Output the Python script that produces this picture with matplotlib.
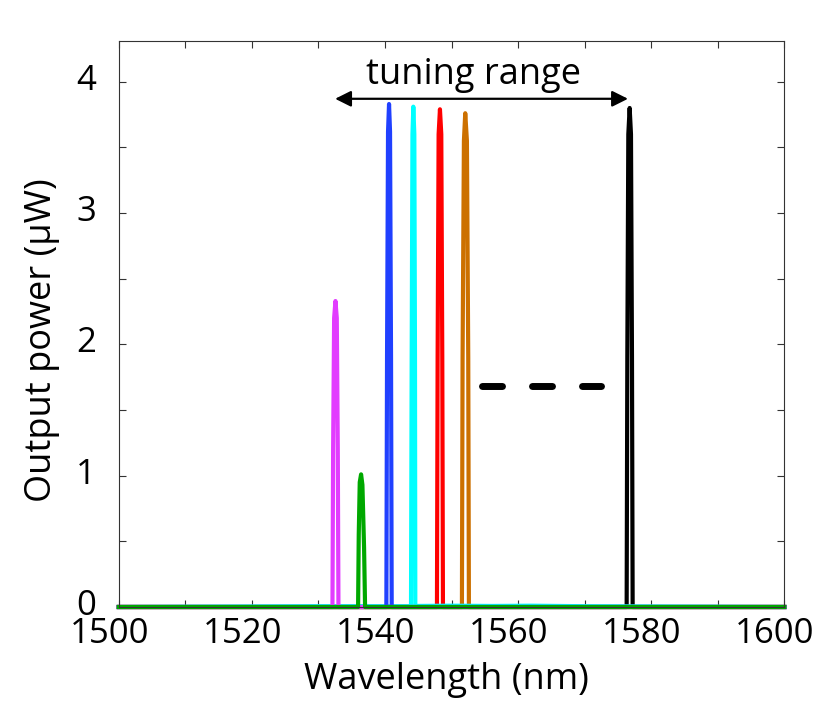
import matplotlib.pyplot as plt
from matplotlib.ticker import MultipleLocator
from matplotlib.transforms import ScaledTranslation

plt.rcParams['font.family'] = ['Open Sans', 'DejaVu Sans']

# spectra (wavelength in nm, power in uW)
wl_black = [1500, 1576.3, 1576.4, 1576.55, 1576.75, 1576.95, 1577.1, 1577.2, 1600]
pw_black = [0, 0, 1.9, 3.6, 3.80, 3.6, 1.9, 0, 0]

wl_orange = [1500, 1551.55, 1551.65, 1551.85, 1552.05, 1552.3, 1552.5, 1552.6, 1600]
pw_orange = [0, 0, 1.9, 3.55, 3.76, 3.55, 1.9, 0, 0]

wl_red = [1500, 1547.8, 1547.9, 1548.05, 1548.25, 1548.45, 1548.6, 1548.7, 1600]
pw_red = [0, 0, 1.9, 3.6, 3.79, 3.6, 1.9, 0, 0]

wl_cyan = [1500, 1530, 1543.9, 1544.0, 1544.12, 1544.25, 1544.4, 1544.5, 1544.55,
           1550, 1556, 1562, 1570, 1600]
pw_cyan = [0, 0.006, 0.006, 1.9, 3.6, 3.81, 3.6, 1.9, 0.008,
           0.01, 0.008, 0.01, 0.006, 0]

wl_blue = [1500, 1540.2, 1540.3, 1540.45, 1540.6, 1540.75, 1540.9, 1541.0, 1600]
pw_blue = [0, 0, 1.9, 3.62, 3.83, 3.62, 1.9, 0, 0]

wl_magenta = [1500, 1532.1, 1532.2, 1532.35, 1532.55, 1532.75, 1532.9, 1533.0, 1600]
pw_magenta = [0, 0, 1.2, 2.2, 2.33, 2.2, 1.2, 0, 0]

wl_green = [1500, 1535.95, 1536.05, 1536.2, 1536.4, 1536.6, 1536.85, 1537.0, 1600]
pw_green = [0, 0, 0.55, 0.95, 1.01, 0.93, 0.45, 0, 0]

series = [
    (wl_black, pw_black, 'black'),
    (wl_orange, pw_orange, '#CC7000'),
    (wl_red, pw_red, '#FF0000'),
    (wl_cyan, pw_cyan, '#00FFFF'),
    (wl_blue, pw_blue, '#2040FF'),
    (wl_magenta, pw_magenta, '#E23CFF'),
    (wl_green, pw_green, '#00A800'),
]

fig = plt.figure(figsize=(8.3, 7.08), dpi=100)
ax = fig.add_axes([118.8 / 830, 101 / 708, 665.6 / 830, 566 / 708])

for wl, pw, c in series:
    ax.plot(wl, pw, color=c, lw=3, solid_joinstyle='round', clip_on=False)

# dashed marker between the peaks
ax.plot([1554.5, 1572.5], [1.68, 1.68], color='black', lw=5,
        dashes=(2.88, 4.32), dash_capstyle='round')

# tuning range arrow
ax.annotate('', xy=(1532.5, 3.87), xytext=(1576.5, 3.87),
            arrowprops=dict(arrowstyle='<|-|>', color='black', lw=1.6,
                            mutation_scale=24, shrinkA=0, shrinkB=0))
ax.text(1553.3, 3.98, 'tuning range', ha='center', va='baseline', fontsize=26)

ax.set_xlim(1500, 1600)
ax.set_ylim(0, 4.31)
ax.xaxis.set_major_locator(MultipleLocator(20))
ax.xaxis.set_minor_locator(MultipleLocator(10))
ax.yaxis.set_major_locator(MultipleLocator(1))
ax.yaxis.set_minor_locator(MultipleLocator(0.5))
ax.tick_params(which='both', direction='in', top=True, right=True,
               length=5, width=0.8, color='#333333', labelsize=25)
ax.tick_params(axis='x', pad=7)
ax.tick_params(axis='y', pad=16.5)
for s in ax.spines.values():
    s.set_linewidth(0.8)
    s.set_color('#333333')

# tick labels sit a little left / up of their ticks in the original
for t in ax.xaxis.get_major_ticks():
    t.label1.set_transform(t.label1.get_transform()
                           + ScaledTranslation(-0.095, 0, fig.dpi_scale_trans))
for t in ax.yaxis.get_major_ticks():
    t.label1.set_transform(t.label1.get_transform()
                           + ScaledTranslation(0, 0.05, fig.dpi_scale_trans))

ax.set_xlabel('Wavelength (nm)', fontsize=26)
ax.set_ylabel('Output power (μW)', fontsize=26)
ax.xaxis.set_label_coords(0.492, -0.098)
ax.yaxis.set_label_coords(-0.088, 0.472)

plt.savefig('out.png', dpi=100)
plt.close()
